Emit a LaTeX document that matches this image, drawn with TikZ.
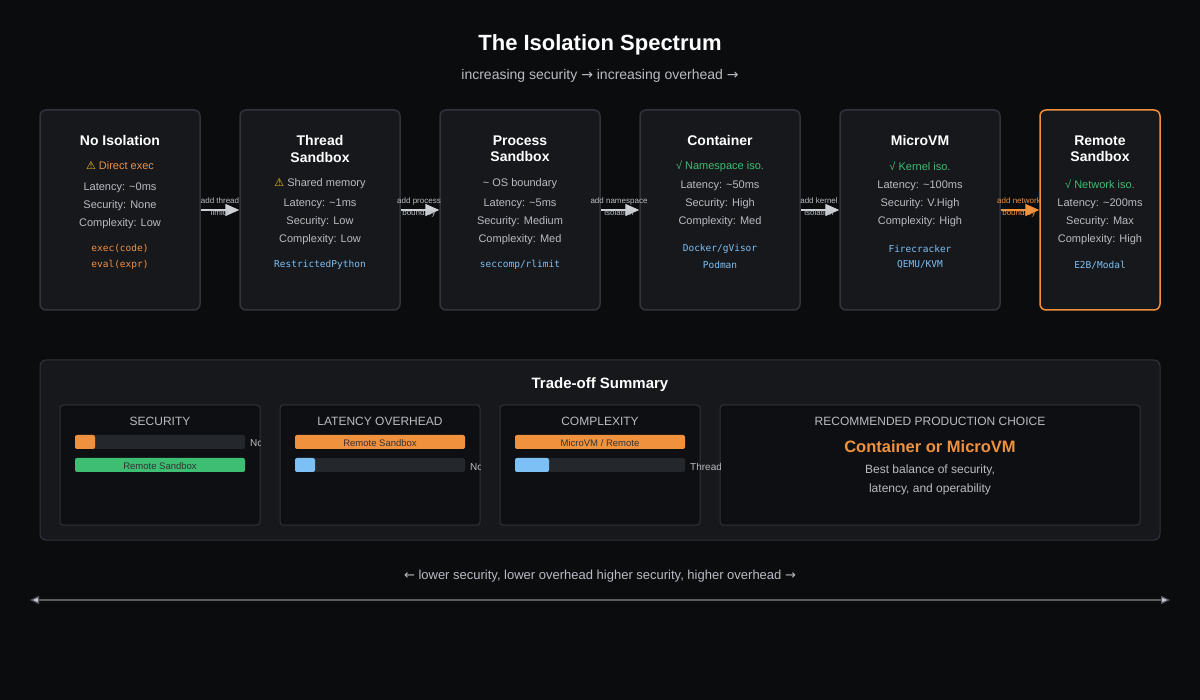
\documentclass[tikz,border=0pt]{standalone}
\usepackage{fontspec}
\setmainfont{Liberation Sans}
\newfontfamily\sym{DejaVu Sans}
\setmonofont{DejaVu Sans Mono}
\usetikzlibrary{arrows.meta}
\definecolor{bg}{HTML}{0B0C0E}
\definecolor{card}{HTML}{17181C}
\definecolor{bord}{HTML}{30333A}
\definecolor{txt}{HTML}{B8BCC2}
\definecolor{org}{HTML}{F0913E}
\definecolor{grn}{HTML}{3DBE72}
\definecolor{blu}{HTML}{7CC0F5}
\definecolor{trk}{HTML}{24272C}
\definecolor{sub}{HTML}{0E0F12}
\definecolor{yel}{HTML}{F5C518}
\newcommand{\warn}{{\sym\textcolor{yel}{⚠}}}
\tikzset{
 card/.style={draw=bord,line width=1.5pt,fill=card,rounded corners=6pt},
 tt/.style={font=\fontsize{14}{16.5}\selectfont\bfseries,text=white,align=center},
 ln/.style={font=\fontsize{11}{13}\selectfont,text=txt},
 cd/.style={font=\ttfamily\fontsize{9.5}{11}\selectfont},
 al/.style={font=\fontsize{8}{12}\selectfont,text=txt,align=center},
 ar/.style={draw=txt!70,line width=1.5pt,-{Triangle[length=14pt,width=12pt]}},
 sp/.style={draw=bord,line width=1pt,fill=sub,rounded corners=3pt},
 hd/.style={font=\fontsize{12}{14}\selectfont,text=txt},
 bt/.style={font=\fontsize{9.5}{11}\selectfont,text=black!80},
}
\begin{document}
\begin{tikzpicture}[x=1pt,y=-1pt]
\fill[bg] (0,0) rectangle (1200,700);
\useasboundingbox (0,0) rectangle (1200,700);
\node[font=\fontsize{22}{26}\selectfont\bfseries,text=white] (title) at (600,45) {The Isolation Spectrum};
\node[font=\fontsize{14}{16}\selectfont,text=txt] (subt) at (600,76) {increasing security {\sym→} increasing overhead {\sym→}};
% cards
\node[card,minimum width=160pt,minimum height=200pt] (c1) at (120,210) {};
\node[card,minimum width=160pt,minimum height=200pt] (c2) at (320,210) {};
\node[card,minimum width=160pt,minimum height=200pt] (c3) at (520,210) {};
\node[card,minimum width=160pt,minimum height=200pt] (c4) at (720,210) {};
\node[card,minimum width=160pt,minimum height=200pt] (c5) at (920,210) {};
\node[card,draw=org,minimum width=120pt,minimum height=200pt] (c6) at (1100,210) {};
% card 1
\node[tt] (t1) at (120,140) {No Isolation};
\node[ln,text=org] (w1) at (120,166) {\warn\ Direct exec};
\node[ln] (a1) at (120,188) {Latency: \textasciitilde0ms};
\node[ln] (b1) at (120,206) {Security: None};
\node[ln] (d1) at (120,224) {Complexity: Low};
\node[cd,text=org] (e1) at (120,249) {exec(code)};
\node[cd,text=org] (f1) at (120,265) {eval(expr)};
% card 2
\node[tt] (t2) at (320,149) {Thread\\Sandbox};
\node[ln] (w2) at (320,184) {\warn\ Shared memory};
\node[ln] (a2) at (320,204) {Latency: \textasciitilde1ms};
\node[ln] (b2) at (320,222) {Security: Low};
\node[ln] (d2) at (320,240) {Complexity: Low};
\node[cd,text=blu] (e2) at (320,265) {RestrictedPython};
% card 3
\node[tt] (t3) at (520,149) {Process\\Sandbox};
\node[ln] (w3) at (520,184) {\textasciitilde\ OS boundary};
\node[ln] (a3) at (520,204) {Latency: \textasciitilde5ms};
\node[ln] (b3) at (520,222) {Security: Medium};
\node[ln] (d3) at (520,240) {Complexity: Med};
\node[cd,text=blu] (e3) at (520,265) {seccomp/rlimit};
% card 4
\node[tt] (t4) at (720,140) {Container};
\node[ln,text=grn] (w4) at (720,166) {√ Namespace iso.};
\node[ln] (a4) at (720,186) {Latency: \textasciitilde50ms};
\node[ln] (b4) at (720,204) {Security: High};
\node[ln] (d4) at (720,222) {Complexity: Med};
\node[cd,text=blu] (e4) at (720,249) {Docker/gVisor};
\node[cd,text=blu] (f4) at (720,265) {Podman};
% card 5
\node[tt] (t5) at (920,140) {MicroVM};
\node[ln,text=grn] (w5) at (920,166) {√ Kernel iso.};
\node[ln] (a5) at (920,186) {Latency: \textasciitilde100ms};
\node[ln] (b5) at (920,204) {Security: V.High};
\node[ln] (d5) at (920,222) {Complexity: High};
\node[cd,text=blu] (e5) at (920,249) {Firecracker};
\node[cd,text=blu] (f5) at (920,265) {QEMU/KVM};
% card 6
\node[tt] (t6) at (1100,149) {Remote\\Sandbox};
\node[ln,text=grn] (w6) at (1100,184) {√ Network iso.};
\node[ln] (a6) at (1100,204) {Latency: \textasciitilde200ms};
\node[ln] (b6) at (1100,222) {Security: Max};
\node[ln] (d6) at (1100,240) {Complexity: High};
\node[cd,text=blu] (e6) at (1100,265) {E2B/Modal};
% arrows
\draw[ar] (c1.east) -- (c2.west);
\draw[ar] (c2.east) -- (c3.west);
\draw[ar] (c3.east) -- (c4.west);
\draw[ar] (c4.east) -- (c5.west);
\draw[ar,draw=org] (c5.east) -- (c6.west);
\node[al] (l1) at (220,207) {add thread\\limits};
\node[al] (l2) at (419,207) {add process\\boundary};
\node[al] (l3) at (619,207) {add namespace\\isolation};
\node[al] (l4) at (819,207) {add kernel\\isolation};
\node[al,text=org] (l5) at (1019,207) {add network\\boundary};
% summary
\node[draw=bord,line width=1pt,fill=card,rounded corners=6pt,minimum width=1120pt,minimum height=180pt] (sum) at (600,450) {};
\node[font=\fontsize{15}{17}\selectfont\bfseries,text=white] (st) at (600,385) {Trade-off Summary};
\node[sp,minimum width=200pt,minimum height=120pt] (p1) at (160,465) {};
\node[sp,minimum width=200pt,minimum height=120pt] (p2) at (380,465) {};
\node[sp,minimum width=200pt,minimum height=120pt] (p3) at (600,465) {};
\node[sp,minimum width=420pt,minimum height=120pt] (p4) at (930,465) {};
\node[hd] (h1) at (160,421) {SECURITY};
\node[hd] (h2) at (380,421) {LATENCY OVERHEAD};
\node[hd] (h3) at (600,421) {COMPLEXITY};
\node[hd] (h4) at (930,421) {RECOMMENDED PRODUCTION CHOICE};
\begin{scope}
\clip (60,405) rectangle (260,525);
\fill[trk,rounded corners=2pt] (75,435) rectangle (245,449);
\fill[org,rounded corners=2pt] (75,435) rectangle (95,449);
\node[ln,font=\fontsize{10}{12}\selectfont,anchor=west,inner sep=0] (n1) at (250,443) {None -};
\end{scope}
\fill[grn,rounded corners=2pt] (75,458) rectangle (245,472);
\node[bt] (g1) at (160,466) {Remote Sandbox};
\fill[org,rounded corners=2pt] (295,435) rectangle (465,449);
\node[bt] (o2) at (380,443) {Remote Sandbox};
\begin{scope}
\clip (280,405) rectangle (480,525);
\fill[trk,rounded corners=2pt] (295,458) rectangle (465,472);
\fill[blu,rounded corners=2pt] (295,458) rectangle (315,472);
\node[ln,font=\fontsize{10}{12}\selectfont,anchor=west,inner sep=0] (n2) at (470,467) {No Isolation};
\end{scope}
\fill[org,rounded corners=2pt] (515,435) rectangle (685,449);
\node[bt] (o3) at (600,443) {MicroVM / Remote};
\begin{scope}
\clip (500,405) rectangle (720,525);
\fill[trk,rounded corners=2pt] (515,458) rectangle (685,472);
\fill[blu,rounded corners=2pt] (515,458) rectangle (549,472);
\node[ln,font=\fontsize{10}{12}\selectfont,anchor=west,inner sep=0] (n3) at (690,467) {Thread Sandbox};
\end{scope}
\node[font=\fontsize{16.5}{19}\selectfont\bfseries,text=org] (rec) at (930,447) {Container or MicroVM};
\node[ln,font=\fontsize{12}{19}\selectfont,align=center] (rt) at (930,480) {Best balance of security,\\latency, and operability};
% footer
\node[font=\fontsize{13}{15}\selectfont,text=txt] (ft) at (600,576) {{\sym←} lower security, lower overhead higher security, higher overhead {\sym→}};
\coordinate (fl) at (30,600);
\coordinate (fr) at (1170,600);
\draw[draw=bord!80,line width=1.2pt,{Triangle[length=9pt,width=8pt,fill=txt!70]}-{Triangle[length=9pt,width=8pt,fill=txt!70]}] (fl) -- (fr);
\end{tikzpicture}
\end{document}
